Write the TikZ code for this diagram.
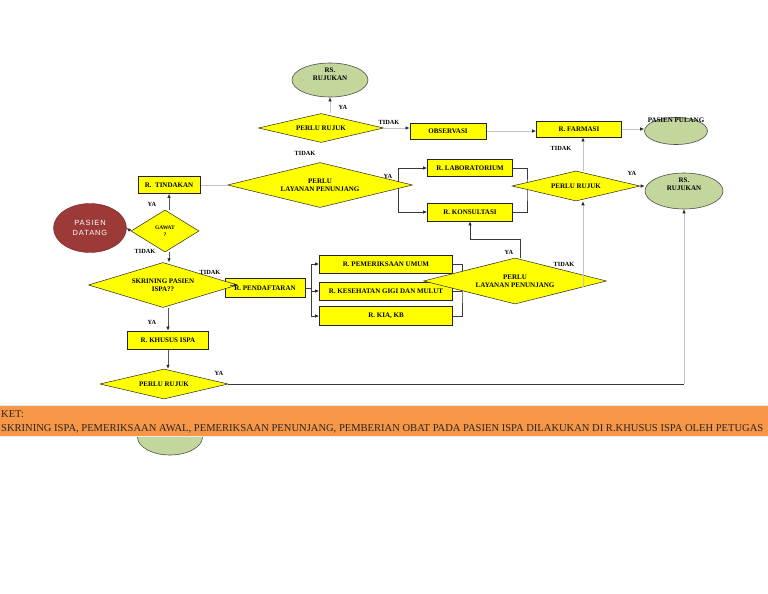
\documentclass[tikz,border=0pt]{standalone}
\usepackage{fontspec}
\setmainfont{Liberation Serif}
\newfontfamily\datangfont[LetterSpace=12]{Liberation Sans}
\usetikzlibrary{shapes.geometric, arrows.meta, backgrounds}
\definecolor{kuning}{HTML}{FFFF00}
\definecolor{hijau}{HTML}{C3D69B}
\definecolor{merah}{HTML}{9C3A38}
\definecolor{oranye}{HTML}{F79646}
\definecolor{gelap}{HTML}{3A3A3A}
\definecolor{sedang}{HTML}{555555}
\definecolor{abu}{HTML}{C4C4C4}

\begin{document}
\begin{tikzpicture}[
		x=1pt, y=-1pt,
		every node/.style={inner sep=0pt, align=center, font=\fontsize{7}{8}\selectfont\bfseries},
		kotak/.style={rectangle, draw=black!85, fill=kuning, line width=0.8pt},
		belah/.style={diamond, draw=black!85, fill=kuning, line width=0.5pt},
		elips/.style={ellipse, draw=black!70, fill=hijau, line width=0.6pt},
		ket/.style={font=\fontsize{6.3}{7}\selectfont\bfseries},
		tegas/.style={draw=gelap, line width=1pt},
		garis/.style={draw=sedang, line width=0.6pt},
		tipis/.style={draw=abu, line width=0.7pt},
		panah/.style={-{Latex[length=4pt, width=3.5pt, color=black!85]}}
	]
  \useasboundingbox (0,0) rectangle (768,594);
  \node (rs_bawah) [elips, minimum width=65, minimum height=36] at (170,437) {};
  \node (pita) [fill=oranye, draw=black!8, minimum width=772, minimum height=31, anchor=north west] at (-2,405) {};
  \node (pita_1) [anchor=base west, text=black!85, font=\fontsize{10.5}{12}\selectfont] at (1,417) {KET:};
  \node (pita_2) [anchor=base west, text=black!85, font=\fontsize{10.55}{12}\selectfont] at (1,431) {SKRINING ISPA, PEMERIKSAAN AWAL, PEMERIKSAAN PENUNJANG, PEMBERIAN OBAT PADA PASIEN ISPA DILAKUKAN DI R.KHUSUS ISPA OLEH PETUGAS};

  \node (rs_atas) [elips, minimum width=76, minimum height=34] at (330,80) {};
  \node (rs_atas_label) at (330,74) {RS.\\RUJUKAN};
  \node (rujuk_atas) [belah, minimum width=125, minimum height=29, aspect=4.3] at (321,128) {PERLU RUJUK};
  \node (observasi) [kotak, minimum width=76, minimum height=16] at (448,131) {OBSERVASI};
  \node (farmasi) [kotak, minimum width=85, minimum height=16] at (579,129) {R. FARMASI};
  \node (pulang) [elips, minimum width=63, minimum height=27] at (676,131) {};
  \node (pulang_label) at (676,120) {PASIEN PULANG};
  \node (rujuk_kanan) [belah, minimum width=128, minimum height=30, aspect=4.3] at (576,186) {PERLU RUJUK};
  \node (rs_kanan) [elips, minimum width=78, minimum height=36] at (684,191) {};
  \node (rs_kanan_label) at (684,184) {RS.\\RUJUKAN};
  \node (tindakan) [kotak, minimum width=62, minimum height=17] at (169,185) {R.\ \ TINDAKAN};
  \node (layanan_atas) [belah, minimum width=185, minimum height=45, aspect=4] at (320,185) {PERLU\\LAYANAN PENUNJANG};
  \node (lab) [kotak, minimum width=85, minimum height=17] at (470,168) {R. LABORATORIUM};
  \node (konsul) [kotak, minimum width=85, minimum height=18] at (470,212) {R. KONSULTASI};
  \node (datang) [ellipse, fill=merah, draw=merah!70!black, minimum width=73, minimum height=49, text=white, font=\datangfont\fontsize{7.5}{10}\selectfont] at (90,228) {PASIEN\\DATANG};
  \node (gawat) [belah, minimum width=68, minimum height=42, aspect=1.6, font=\fontsize{5.5}{7}\selectfont\bfseries] at (165,231) {GAWAT\\?};
  \node (pendaftaran) [kotak, minimum width=80, minimum height=19] at (265,288) {R. PENDAFTARAN};
  \node (skrining) [belah, minimum width=149, minimum height=45, aspect=3.3] at (163,285) {SKRINING PASIEN\\ISPA??};
  \node (periksa) [kotak, minimum width=133, minimum height=18] at (386,264) {R. PEMERIKSAAN UMUM};
  \node (gigi) [kotak, minimum width=133, minimum height=18] at (386,291) {R. KESEHATAN GIGI DAN MULUT};
  \node (kia) [kotak, minimum width=133, minimum height=19] at (386,316) {R. KIA, KB};
  \node (layanan_bawah) [belah, minimum width=183, minimum height=46, aspect=4] at (515,281) {PERLU\\LAYANAN PENUNJANG};
  \node (khusus) [kotak, minimum width=81, minimum height=18] at (168,340) {R. KHUSUS ISPA};
  \node (rujuk_bawah) [belah, minimum width=128, minimum height=30, aspect=4.3] at (164,384) {PERLU RUJUK};

  \node (ya_1) [ket] at (343,107) {YA};
  \node (tidak_1) [ket] at (389,122) {TIDAK};
  \node (tidak_2) [ket] at (305,153) {TIDAK};
  \node (ya_2) [ket] at (388,176) {YA};
  \node (tidak_3) [ket] at (561,148) {TIDAK};
  \node (ya_3) [ket] at (632,173) {YA};
  \node (ya_4) [ket] at (152,204) {YA};
  \node (tidak_4) [ket] at (145,251) {TIDAK};
  \node (tidak_5) [ket] at (210,272) {TIDAK};
  \node (ya_5) [ket] at (152,322) {YA};
  \node (ya_6) [ket] at (219,373) {YA};
  \node (ya_7) [ket] at (509,252) {YA};
  \node (tidak_6) [ket] at (564,264) {TIDAK};

  \begin{scope}[on background layer]
    \draw [tipis, panah] (rs_atas.south |- rujuk_atas.north) -- (rs_atas.south);
    \draw [tipis, panah] (rujuk_atas.east) -- (rujuk_atas.east -| observasi.west);
    \draw [tipis, panah] (observasi.east) -- (observasi.east -| farmasi.west);
    \draw [tipis, panah] (farmasi.east) -- (farmasi.east -| pulang.west);
    \draw [tipis, panah] ([xshift=7pt]rujuk_kanan.north) -- ([xshift=7pt]rujuk_kanan.north |- farmasi.south);
    \draw [tipis, panah] (rujuk_kanan.east) -- (rujuk_kanan.east -| rs_kanan.west);
    \draw [tipis] (tindakan.east) -- (layanan_atas.west);
    \coordinate (cabang_atas) at (398,190);
    \draw [tegas, panah] (cabang_atas) |- (lab.west);
    \draw [tegas, panah] (cabang_atas) |- (konsul.west);
    \coordinate (gabung_atas) at (527,190);
    \draw [tegas] (lab.east) -| (gabung_atas) |- (konsul.east);
    \coordinate (belok_ya) at (520,239);
    \draw [tegas, panah] ([xshift=5pt]layanan_bawah.north) -- (belok_ya) -| (konsul.south);
    \coordinate (cabang_bawah) at (311,288);
    \draw [tegas] (pendaftaran.east) -- (cabang_bawah);
    \draw [tegas, panah] (cabang_bawah) |- (periksa.west);
    \draw [tegas, panah] (cabang_bawah) |- (gigi.west);
    \draw [tegas, panah] (cabang_bawah) |- (kia.west);
    \coordinate (gabung_bawah) at (462,290);
    \draw [tegas] (periksa.east) -| (gabung_bawah) |- (kia.east);
    \draw [tegas] (gigi.east) -- (gigi.east -| gabung_bawah);
    \draw [garis, panah] (gawat.west) -- (datang.east);
    \draw [garis, panah] (tindakan.south |- gawat.north) -- (tindakan.south);
    \draw [garis, panah] (tindakan.south |- gawat.south) -- (tindakan.south |- skrining.north);
    \draw [garis, panah] (khusus.north |- skrining.south) -- (khusus.north);
    \draw [garis, panah] (khusus.south) -- (khusus.south |- rujuk_bawah.north);
    \draw [tegas] (rujuk_bawah.east) -- (rujuk_bawah.east -| rs_kanan.south);
    \draw [tipis, panah] (rujuk_bawah.east -| rs_kanan.south) -- (rs_kanan.south);
  \end{scope}
  \draw [garis, panah] ([xshift=-8pt]skrining.east) -- (skrining.east);
  \coordinate (tidak_bawah) at (583,287);
  \draw [tipis, panah] (tidak_bawah) -- (tidak_bawah |- rujuk_kanan.south);
\end{tikzpicture}
\end{document}
